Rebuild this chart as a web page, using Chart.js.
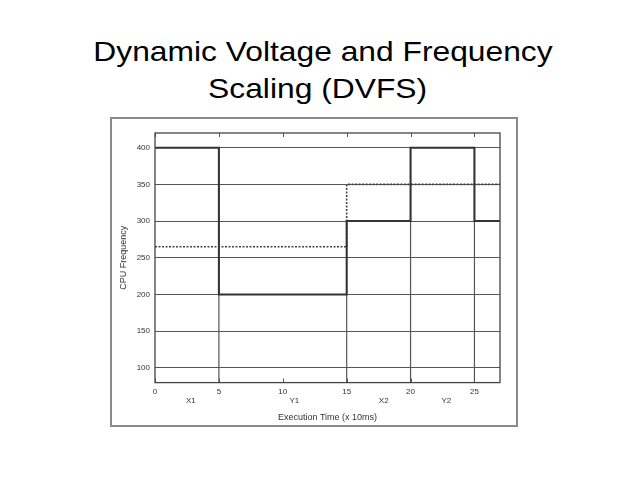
<!DOCTYPE html>
<html>
<head>
<meta charset="utf-8">
<script src="https://cdn.jsdelivr.net/npm/chart.js@4"></script>
<style>
  html, body { margin: 0; padding: 0; background: #fff; }
  body { width: 638px; height: 479px; position: relative; overflow: hidden; font-family: "Liberation Sans", Arial, sans-serif; }
  .t { position: absolute; left: 0; width: 638px; text-align: center; font-size: 28px; line-height: 37px; color: #000; white-space: nowrap; transform-origin: 50% 50%; }
  #frame { position: absolute; left: 110px; top: 117px; width: 408px; height: 310px; box-sizing: border-box; border: 2px solid #8a8a8a; pointer-events: none; }
  #wrap { position: absolute; left: 110px; top: 117px; width: 408px; height: 310px; }
</style>
</head>
<body>
<div class="t" style="top:33px; transform: translateX(4px) scaleX(1.135);">Dynamic Voltage and Frequency</div>
<div class="t" style="top:70px; transform: translateX(-1.4px) scaleX(1.135);">Scaling (DVFS)</div>
<div id="wrap"><canvas id="c" width="408" height="310"></canvas></div>
<div id="frame"></div>
<script>
// ---- data ----
const timeSteps   = [0, 5, 15, 20, 25, 27];          // x (x 10 ms)
const cpuFreq     = [400, 200, 300, 400, 300, 300];  // solid step series (value from this time on)
const avgTimes    = [0, 15, 27];
const avgFreq     = [265, 350, 350];                 // dotted step series
const phaseBounds = [5, 15, 20, 25];
const phaseNames  = ['X1', 'Y1', 'X2', 'Y2'];
const phaseLabelAt = [2.8, 10.9, 17.9, 22.8];
const xTicks = [0, 5, 10, 15, 20, 25];
const yTicks = [100, 150, 200, 250, 300, 350, 400];
const yMin = 80, yMax = 420, xMin = 0, xMax = 27;

const solidPts = timeSteps.map((t, i) => ({x: t, y: cpuFreq[i]}));
const dotPts = avgTimes.map((t, i) => ({x: t, y: avgFreq[i]}));
// vertical boundary lines from the axis up to the step at each phase boundary
const boundPts = [];
phaseBounds.forEach(b => {
  const i = timeSteps.indexOf(b);
  const top = Math.max(cpuFreq[i], cpuFreq[i - 1]);
  boundPts.push({x: b, y: yMin}, {x: b, y: top}, {x: b, y: NaN});
});

const frameTicks = {
  id: 'frameTicks',
  afterDatasetsDraw(chart) {
    const {ctx, chartArea: a, scales} = chart;
    ctx.save();
    ctx.strokeStyle = '#555';
    ctx.lineWidth = 1;
    xTicks.forEach(v => {
      const px = Math.round(scales.x.getPixelForValue(v)) + 0.5;
      ctx.beginPath();
      ctx.moveTo(px, a.top); ctx.lineTo(px, a.top + 4);
      ctx.moveTo(px, a.bottom); ctx.lineTo(px, a.bottom - 4);
      ctx.stroke();
    });
    ctx.strokeStyle = '#444';
    ctx.lineWidth = 1.3;
    ctx.strokeRect(a.left, a.top, a.right - a.left, a.bottom - a.top);
    ctx.restore();
  }
};

new Chart(document.getElementById('c'), {
  type: 'line',
  data: {
    datasets: [
      { data: boundPts, borderColor: '#555', borderWidth: 1.2, pointRadius: 0, spanGaps: false, order: 3 },
      { data: dotPts, stepped: 'before', borderColor: '#444', borderWidth: 1.6, borderDash: [2, 1.5], pointRadius: 0, order: 2 },
      { data: solidPts, stepped: 'before', borderColor: '#333', borderWidth: 2, pointRadius: 0, order: 1 }
    ]
  },
  options: {
    responsive: false,
    animation: false,
    events: [],
    layout: { padding: { left: 0, top: 16, right: 18, bottom: 0 } },
    plugins: { legend: { display: false }, tooltip: { enabled: false }, title: { display: false } },
    scales: {
      x: {
        type: 'linear', min: xMin, max: xMax, position: 'bottom', weight: 0,
        afterBuildTicks: s => { s.ticks = xTicks.map(v => ({value: v})); },
        afterFit: s => { s.height = 12; },
        grid: { display: false, drawTicks: false },
        border: { display: false },
        ticks: { font: { size: 8, family: 'Liberation Sans' }, color: '#333', padding: 4, maxRotation: 0 }
      },
      xp: {
        type: 'linear', min: xMin, max: xMax, position: 'bottom', weight: 1,
        afterBuildTicks: s => { s.ticks = phaseLabelAt.map(v => ({value: v})); },
        grid: { display: false, drawTicks: false },
        border: { display: false },
        ticks: { font: { size: 8, family: 'Liberation Sans' }, color: '#333', padding: 1, maxRotation: 0,
                 callback: (v, i) => phaseNames[i] },
        title: { display: true, text: 'Execution Time (x 10ms)', font: { size: 9, family: 'Liberation Sans' }, color: '#333', padding: { top: 6, bottom: 4 } }
      },
      y: {
        type: 'linear', min: yMin, max: yMax,
        afterBuildTicks: s => { s.ticks = yTicks.map(v => ({value: v})); },
        afterFit: s => { s.width = 45; },
        grid: { color: '#555', lineWidth: 1, drawTicks: false },
        border: { display: false },
        ticks: { font: { size: 8, family: 'Liberation Sans' }, color: '#333', padding: 5 },
        title: { display: true, text: 'CPU Frequency', font: { size: 9, family: 'Liberation Sans' }, color: '#333', padding: { top: 8, bottom: 0 } }
      }
    }
  },
  plugins: [frameTicks]
});
</script>
</body>
</html>
